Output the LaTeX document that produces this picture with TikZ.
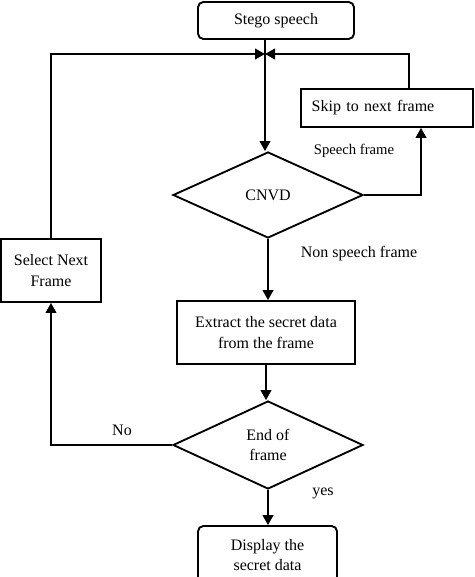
\documentclass[tikz,border=0pt]{standalone}
\usepackage{fontspec}
\setmainfont{Liberation Serif}
\usetikzlibrary{shapes.geometric,arrows.meta,positioning,calc}

\begin{document}
\begin{tikzpicture}[x=0.75pt,y=-0.75pt,line width=1.4pt,
  >={Triangle[length=7.5pt,width=8pt]},
  box/.style={draw,rectangle,align=center,inner sep=0pt,font=\fontsize{12}{15.5}\selectfont},
  rbox/.style={box,rounded corners=4pt},
  test/.style={draw,diamond,align=center,inner sep=0pt,minimum width=142.5pt,font=\fontsize{12}{15.5}\selectfont},
  lab/.style={font=\fontsize{12}{14}\selectfont}]
\useasboundingbox (0,0) rectangle (474,577);

\node[rbox,minimum width=117pt,minimum height=27.75pt] (stego) at (276,20.5) {Stego speech};
\node[box,minimum height=28.5pt,text width=113pt,inner xsep=8pt,align=left] (skip) at (387,108) {Skip to next frame};
\node[test,minimum height=64.5pt] (cnvd) at (268,195) {CNVD};
\node[box,minimum width=133.5pt,minimum height=47.25pt] (extract) at (266,332.5) {Extract the secret data\\from the frame};
\node[test,minimum height=66pt] (endf) at (268,445) {End of\\frame};
\node[box,minimum width=75pt,minimum height=47.25pt] (select) at (51,270.5) {Select Next\\Frame};
\node[rbox,minimum width=104.25pt,minimum height=43.5pt] (display) at (267.5,555) {Display the\\secret data};

\node[lab,font=\fontsize{11}{13}\selectfont] (speech) at (354,151) {Speech frame};
\node[lab] (nonspeech) at (359,254) {Non speech frame};
\node[lab] (no) at (122,430) {No};
\node[lab] (yes) at (323,493) {yes};

\coordinate (join) at (265,54);
\draw (stego.south -| join) -- (join);
\draw[->] (join) -- (join |- cnvd.north);
\draw[->] (select.north) |- (join);
\draw[->] ([xshift=16.5pt]skip.north) |- (join);
\draw[->] (cnvd.east) -| ([xshift=25.5pt]skip.south);
\draw[->] (cnvd.south) -- (cnvd.south |- extract.north);
\draw[->] (extract.south) -- (extract.south |- endf.north);
\draw[->] (endf.south) -- (endf.south |- display.north);
\draw[->] (endf.west) -| (select.south);
\end{tikzpicture}
\end{document}
